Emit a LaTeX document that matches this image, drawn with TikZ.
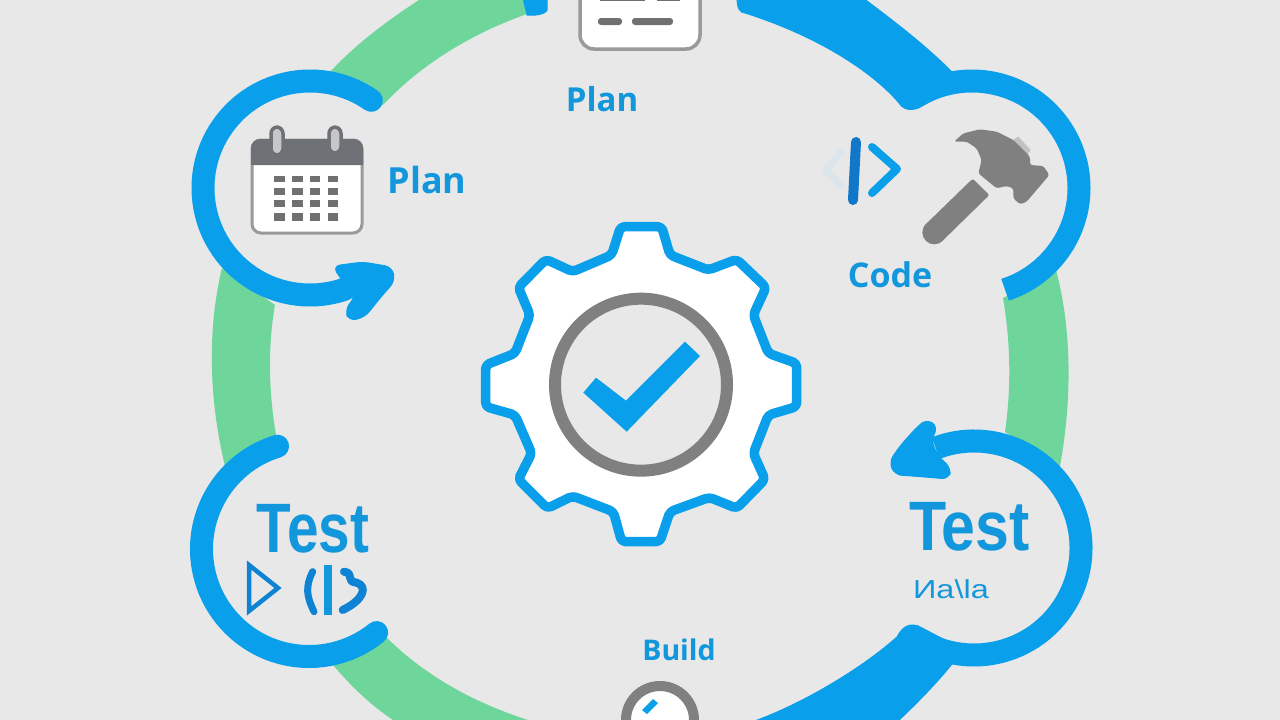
\documentclass[tikz,border=0pt]{standalone}
\usepackage{fontspec}
\setmainfont{Open Sans}
\newfontfamily\arialfont{Liberation Sans}
\definecolor{bgc}{HTML}{E8E8E8}
\definecolor{bluec}{HTML}{0A9FEB}
\definecolor{txtc}{HTML}{1296DC}
\definecolor{darkblue}{HTML}{1177C8}
\definecolor{greenc}{HTML}{6FD69B}
\definecolor{grayc}{HTML}{808080}
\definecolor{lightgray}{HTML}{9A9A9A}
\definecolor{headc}{HTML}{6E7276}
\definecolor{cellc}{HTML}{707070}
\tikzset{
  ring/.style={draw=bluec,line width=23pt},
  band/.style={fill=greenc,draw=none},
  blueblob/.style={fill=bluec,draw=bluec,line width=1pt,line join=round},
  label/.style={text=txtc,font=\bfseries\fontsize{36}{38}\selectfont,inner sep=0pt,anchor=center},
  bigtest/.style={text=txtc,font=\arialfont\bfseries\fontsize{70}{72}\selectfont,inner sep=0pt,anchor=center},
}
\begin{document}
\begin{tikzpicture}[x=1pt,y=-1pt]
\useasboundingbox (0,0) rectangle (1280,720);
\clip (0,0) rectangle (1280,720);
\fill[bgc] (0,0) rectangle (1280,720);

% green arcs
\path[band] (330,72) .. controls (355,45) and (385,22) .. (422,-2) -- (530,-2) -- (530,13)
  .. controls (480,30) and (425,60) .. (383,105) -- cycle;
\path[band] (222,268) .. controls (207,330) and (209,400) .. (225,466) -- (278,446)
  .. controls (269,400) and (267,350) .. (275,305) -- cycle;
\path[band] (333,665) .. controls (350,685) and (370,705) .. (396,722) -- (534,722)
  .. controls (480,705) and (430,680) .. (387,638) -- cycle;
\path[band] (1056,270) .. controls (1072,330) and (1072,400) .. (1060,466) -- (1005,432)
  .. controls (1011,390) and (1011,345) .. (1003,298) -- cycle;

% thick blue arcs
\path[blueblob] (737,-2) -- (863,-2) .. controls (895,22) and (925,45) .. (952,72) -- (952,90)
  -- (925,104) .. controls (918,110) and (905,113) .. (899,103)
  .. controls (880,80) and (830,40) .. (745,13) .. controls (740,13) and (737,8) .. (737,-2) -- cycle;
\path[blueblob] (752,722) .. controls (800,705) and (860,670) .. (897,637)
  .. controls (903,625) and (912,622) .. (922,628) -- (945,640) -- (952,664)
  .. controls (935,685) and (915,705) .. (897,722) -- cycle;
\path[blueblob] (523,-2) -- (547,-2) -- (547,10) .. controls (546,14) and (535,16) .. (527,15) -- cycle;

% small rings
\draw[ring,line cap=round] ([shift={(310,188)}]-55:107) arc[start angle=-55,end angle=-289,radius=107];
\draw[ring] ([shift={(972,188)}]-120:107) arc[start angle=-120,end angle=72,radius=107];
\draw[ring,line cap=round] ([shift={(309,549)}]-107:107.5) arc[start angle=-107,end angle=-309,radius=107.5];
\draw[ring] ([shift={(974,548)}]-111:107) arc[start angle=-111,end angle=126,radius=107];

% arrow heads
\path[blueblob,rounded corners=7pt] (333,266) -- (363,262) -- (392,267) -- (395,281) -- (380,298)
  -- (365,317) -- (349,321) -- (345,310) -- (356,295) -- (340,278) -- cycle;
\path[blueblob,rounded corners=7pt] (927,419) -- (938,427) -- (931,440) -- (938,456) -- (951,468)
  -- (949,479) -- (913,476) -- (895,475) -- (889,462) -- (900,446) -- (917,427) -- cycle;

% calendar icon
\draw[lightgray,line width=3pt,fill=white,rounded corners=9pt] (252,140) rectangle (362,233);
\path[fill=headc] (251,165) -- (251,150) [rounded corners=9pt] -- (251,139) -- (363,139) [sharp corners] -- (363,165) -- cycle;
\foreach \xa/\xb in {274/285,292/303,310/320,328/338}{
  \foreach \ya/\yb in {176/182,188/195,200/207,213/221}{
    \fill[cellc] (\xa,\ya) rectangle (\xb,\yb);
  }
}
\draw[headc,line width=3.5pt,fill=lightgray!55,rounded corners=6.5pt] (271,127) rectangle (283,155);
\draw[headc,line width=3.5pt,fill=lightgray!55,rounded corners=6.5pt] (329,127) rectangle (341,153);

% top icon
\draw[lightgray,line width=3.5pt,fill=white,rounded corners=14pt] (580,-30) rectangle (700,49);
\fill[cellc,rounded corners=3pt] (598,18) rectangle (622,25);
\fill[cellc,rounded corners=3pt] (632,18) rectangle (673,25);
\fill[cellc] (600,-3) rectangle (645,1);
\fill[cellc] (657,-3) rectangle (680,1);

% build gauge
\draw[grayc,line width=10pt,fill=white] (660,720) circle[radius=34];
\fill[bluec] (642,710) -- (653,699) -- (658,703) -- (647,714) -- cycle;

% code icon
\draw[darkblue,line width=10pt,line cap=round] (856,142) -- (853,200);
\draw[bluec,line width=8pt,line cap=round,line join=round] (872,147) -- (897,169) -- (872,193);
\draw[cyan!8!bgc,line width=7pt,line join=round] (843,150) -- (826,170) -- (843,188);

% hammer
\begin{scope}[shift={(800,60)},scale=1/3]
  \fill[grayc,rounded corners=2pt] (518,356) -- (568,405) -- (428,542) -- (378,492) -- cycle;
  \fill[grayc] (403,517) circle[radius=36];
  \fill[lightgray!60] (638,240) -- (655,230) -- (692,270) -- (680,287) -- cycle;
  \fill[grayc,rounded corners=2.5pt] (462,245) -- (490,220) -- (540,208) -- (590,215) -- (640,240) -- (690,290) -- (690,315)
    -- (730,318) -- (748,345) -- (680,425) -- (660,433) -- (640,415) -- (640,385) -- (620,378) -- (590,385) -- (535,340)
    -- (545,300) -- (530,265) -- (500,245) -- cycle;
\end{scope}

% gear
\begin{scope}[shift={(470,210)},scale=1/3]
  \draw[bluec,line width=9.5pt,fill=white,rounded corners=4pt,line join=round]
    (452,50) -- (575,50) -- (600,135) -- (715,180) -- (800,148) -- (888,232) -- (850,315) -- (895,430)
    -- (980,460) -- (980,590) -- (895,615) -- (850,730) -- (885,808) -- (800,895) -- (718,862)
    -- (600,905) -- (570,995) -- (455,995) -- (430,905) -- (308,858) -- (232,895) -- (145,808)
    -- (185,730) -- (135,615) -- (47,590) -- (47,465) -- (135,430) -- (180,315) -- (145,232)
    -- (228,148) -- (308,185) -- (425,135) -- cycle;
  \fill[bgc] (513,524) circle[radius=258];
  \draw[grayc,line width=12pt] (513,524) circle[radius=258];
  \fill[bluec] (340,548) -- (378,503) -- (468,572) -- (645,395) -- (690,438) -- (470,665) -- cycle;
\end{scope}

% bottom-left glyphs
\draw[darkblue!70!bluec,line width=4.5pt,line join=miter] (249,565) -- (278,588) -- (249,611) -- cycle;
\begin{scope}[shift={(180,430)},scale=1/3]
  \draw[darkblue!70!bluec,line width=7pt,line cap=round] (398,425) .. controls (375,470) and (380,500) .. (402,545);
  \draw[txtc,line width=8pt] (445,405) -- (445,555);
  \draw[darkblue!70!bluec,line width=8pt,line cap=round,line join=round]
    (492,425) .. controls (525,430) and (495,455) .. (530,458) .. controls (565,470) and (550,510) .. (488,540);
\end{scope}

% labels
\node[label] (planleft) at (427,180) {Plan};
\node[label,font=\bfseries\fontsize{33}{35}\selectfont] (plantop) at (602,99) {Plan};
\node[label,font=\bfseries\fontsize{34}{36}\selectfont] (code) at (890,275) {Code};
\node[label,font=\bfseries\fontsize{28.5}{30}\selectfont] (build) at (679,650) {Build};
\node[bigtest,xscale=.81] (testleft) at (313,529) {Test};
\node[bigtest,xscale=.87] (testright) at (969.5,527) {Test};
\node[text=txtc,font=\arialfont\fontsize{26}{28}\selectfont,xscale=1.25,inner sep=0pt] (garbled) at (951,589) {Иa\textbackslash la};
\end{tikzpicture}
\end{document}
